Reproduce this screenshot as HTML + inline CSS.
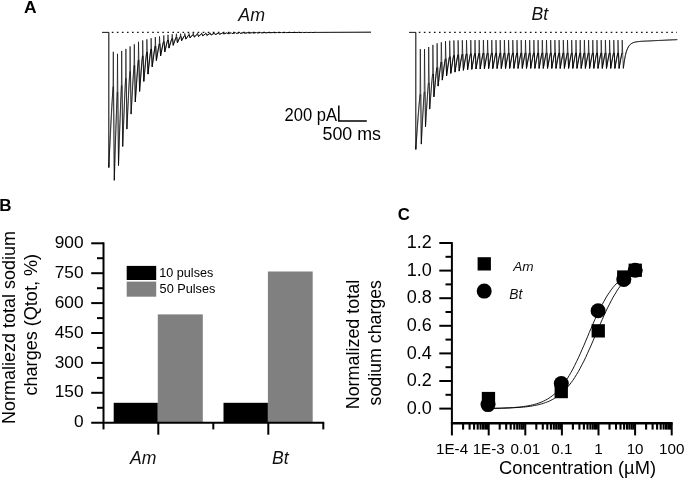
<!DOCTYPE html>
<html><head><meta charset="utf-8"><title>Figure</title>
<style>html,body{margin:0;padding:0;background:#fff}svg{display:block}</style>
</head><body>
<svg width="685" height="480" viewBox="0 0 685 480">
<rect width="685" height="480" fill="#fff"/>
<g font-family="'Liberation Sans', Arial, sans-serif" fill="#000">
<text x="24.1" y="12.8" font-size="16.5" font-weight="bold" textLength="12.6" lengthAdjust="spacingAndGlyphs">A</text>
<text x="238.3" y="21.2" font-size="17.8" font-style="italic" fill="#111">Am</text>
<text x="531.5" y="20.4" font-size="17.5" font-style="italic" fill="#111">Bt</text>
<line x1="111.8" y1="32.4" x2="300" y2="32.4" stroke="#111" stroke-width="1.1" stroke-dasharray="1.6 3.45"/>
<line x1="418.8" y1="32.4" x2="677" y2="32.4" stroke="#111" stroke-width="1.1" stroke-dasharray="1.6 3.45"/>
<polyline fill="none" stroke="#000" stroke-width="0.65" stroke-linejoin="miter" points="102.1,32.4 108.8,32.4 108.8,167.5 109.9,142.5 110.9,121.0 112.0,102.5 113.0,86.5 113.3,51.8 114.3,180.3 115.0,153.0 115.8,129.4 116.5,109.2 117.2,91.8 117.5,53.8 118.5,165.6 119.2,140.8 120.0,119.5 120.7,101.1 121.4,85.3 121.7,50.9 122.7,146.5 123.5,125.4 124.2,107.3 124.9,91.6 125.6,78.2 125.9,48.9 126.9,129.1 127.7,111.2 128.4,95.8 129.1,82.6 129.8,71.2 130.1,46.4 131.1,114.1 131.9,99.0 132.6,86.0 133.3,74.9 134.0,65.2 134.3,44.3 135.3,101.9 136.1,88.9 136.8,77.7 137.5,68.1 138.3,59.8 138.5,41.8 139.6,91.4 140.3,80.4 141.0,70.9 141.7,62.7 142.5,55.7 142.7,40.4 143.8,81.4 144.5,72.3 145.2,64.5 145.9,57.7 146.7,51.9 146.9,39.3 148.0,74.1 148.7,66.3 149.4,59.6 150.2,53.9 150.9,48.9 151.1,38.1 152.2,66.8 152.9,60.4 153.6,54.9 154.4,50.1 155.1,46.0 155.3,37.1 156.4,60.5 157.1,55.3 157.8,50.8 158.6,47.0 159.3,43.6 159.5,36.4 160.6,55.9 161.3,51.5 162.1,47.7 162.8,44.4 163.5,41.5 163.8,35.4 164.8,51.8 165.5,48.1 166.3,45.0 167.0,42.2 167.7,39.9 168.0,34.8 169.0,48.1 169.7,45.1 170.5,42.6 171.2,40.3 171.9,38.4 172.2,34.3 173.2,45.3 173.9,42.8 174.7,40.7 175.4,38.8 176.1,37.2 176.4,33.8 177.4,42.8 178.2,40.8 178.9,39.1 179.6,37.6 180.3,36.4 180.6,33.6 181.6,40.7 182.4,39.1 183.1,37.8 183.8,36.6 184.5,35.6 184.8,33.4 185.8,39.1 186.6,37.8 187.3,36.8 188.0,35.8 188.8,35.0 189.0,33.3 190.1,37.9 190.8,36.9 191.5,36.0 192.2,35.2 193.0,34.6 193.2,33.1 194.3,37.1 195.0,36.2 195.7,35.5 196.4,34.8 197.2,34.3 197.4,33.0 198.5,36.5 199.2,35.7 199.9,35.0 200.6,34.5 201.4,34.0 201.6,32.9 202.7,35.9 203.4,35.2 204.1,34.7 204.9,34.2 205.6,33.8 205.8,32.8 206.9,35.4 207.6,34.8 208.3,34.4 209.1,33.9 209.8,33.6 210.0,32.8 211.1,35.0 211.8,34.5 212.5,34.1 213.3,33.7 214.0,33.4 214.2,32.7 215.3,34.6 216.0,34.2 216.8,33.8 217.5,33.5 218.2,33.3 218.5,32.7 219.5,34.3 220.2,34.0 221.0,33.6 221.7,33.4 222.4,33.1 222.7,32.6 223.7,34.0 224.4,33.7 225.2,33.5 225.9,33.2 226.6,33.0 226.9,32.6 227.9,33.8 228.7,33.5 229.4,33.3 230.1,33.1 230.8,32.9 231.1,32.6 232.1,33.6 232.9,33.4 233.6,33.2 234.3,33.0 235.0,32.9 235.3,32.5 236.3,33.4 237.1,33.2 237.8,33.1 238.5,32.9 239.2,32.8 239.5,32.5 240.5,33.3 241.3,33.1 242.0,33.0 242.7,32.9 243.5,32.7 243.7,32.5 244.8,33.2 245.5,33.0 246.2,32.9 246.9,32.8 247.7,32.7 247.9,32.5 249.0,33.1 249.7,32.9 250.4,32.8 251.1,32.7 251.9,32.7 252.1,32.5 253.2,33.0 253.9,32.9 254.6,32.8 255.4,32.7 256.1,32.6 256.3,32.5 257.4,32.9 258.1,32.8 258.8,32.7 259.6,32.6 260.3,32.6 260.5,32.5 261.6,32.8 262.3,32.7 263.0,32.7 263.8,32.6 264.5,32.6 264.7,32.4 265.8,32.8 266.5,32.7 267.2,32.6 268.0,32.6 268.7,32.5 269.0,32.4 270.0,32.7 270.7,32.7 271.5,32.6 272.2,32.6 272.9,32.5 273.2,32.4 274.2,32.7 274.9,32.6 275.7,32.6 276.4,32.5 277.1,32.5 277.4,32.4 278.4,32.6 279.1,32.6 279.9,32.5 280.6,32.5 281.3,32.5 281.6,32.4 282.6,32.6 283.4,32.6 284.1,32.5 284.8,32.5 285.5,32.5 285.8,32.4 286.8,32.6 287.6,32.5 288.3,32.5 289.0,32.5 289.7,32.5 290.0,32.4 291.0,32.5 291.8,32.5 292.5,32.5 293.2,32.5 294.0,32.5 294.2,32.4 295.3,32.5 296.0,32.5 296.7,32.5 297.4,32.5 298.2,32.4 298.4,32.4 299.5,32.5 300.2,32.5 300.9,32.5 301.6,32.5 302.4,32.4 302.6,32.4 303.7,32.5 304.4,32.5 305.1,32.5 305.8,32.4 306.6,32.4 306.8,32.4 307.9,32.5 308.6,32.5 309.3,32.5 310.1,32.4 310.8,32.4 311.0,32.4 312.1,32.5 312.8,32.5 313.5,32.4 314.3,32.4 315.0,32.4 315.2,32.4 316.3,32.5 318.3,32.5 371.0,32.1"/>
<polyline fill="none" stroke="#000" stroke-width="0.65" stroke-linejoin="miter" points="409.1,32.4 415.8,32.4 415.8,149.4 416.9,132.4 417.9,117.7 419.0,105.1 420.0,94.2 420.3,49.1 421.3,144.1 422.0,128.0 422.8,114.1 423.5,102.1 424.2,91.8 424.5,49.1 425.5,126.8 426.2,113.3 427.0,101.6 427.7,91.5 428.4,82.9 428.7,47.0 429.7,109.1 430.5,98.2 431.2,88.8 431.9,80.7 432.6,73.8 432.9,44.9 433.9,96.8 434.7,87.7 435.4,79.9 436.1,73.2 436.8,67.4 437.1,43.3 438.1,86.1 438.9,78.7 439.6,72.3 440.3,66.8 441.0,62.0 441.3,42.3 442.3,80.1 443.1,73.5 443.8,67.8 444.5,62.9 445.3,58.7 445.5,41.2 446.6,75.8 447.3,69.8 448.0,64.7 448.7,60.3 449.5,56.5 449.7,40.7 450.8,73.4 451.5,67.8 452.2,63.0 452.9,58.8 453.7,55.2 453.9,40.4 455.0,72.1 455.7,66.7 456.4,62.0 457.2,58.0 457.9,54.6 458.1,40.3 459.2,71.1 459.9,65.9 460.6,61.3 461.4,57.5 462.1,54.1 462.3,40.2 463.4,70.3 464.1,65.2 464.8,60.8 465.6,57.0 466.3,53.7 466.5,40.2 467.6,69.7 468.3,64.7 469.1,60.4 469.8,56.7 470.5,53.5 470.8,40.1 471.8,69.3 472.5,64.4 473.3,60.1 474.0,56.4 474.7,53.3 475.0,40.1 476.0,69.0 476.7,64.1 477.5,59.9 478.2,56.3 478.9,53.1 479.2,40.1 480.2,68.9 480.9,64.0 481.7,59.8 482.4,56.2 483.1,53.0 483.4,40.1 484.4,68.7 485.2,63.9 485.9,59.7 486.6,56.1 487.3,53.0 487.6,40.1 488.6,68.6 489.4,63.8 490.1,59.6 490.8,56.0 491.5,52.9 491.8,40.1 492.8,68.6 493.6,63.7 494.3,59.6 495.0,56.0 495.8,52.9 496.0,40.1 497.1,68.5 497.8,63.7 498.5,59.5 499.2,56.0 500.0,52.9 500.2,40.1 501.3,68.5 502.0,63.7 502.7,59.5 503.4,55.9 504.2,52.9 504.4,40.1 505.5,68.5 506.2,63.6 506.9,59.5 507.6,55.9 508.4,52.9 508.6,40.1 509.7,68.4 510.4,63.6 511.1,59.5 511.9,55.9 512.6,52.9 512.8,40.1 513.9,68.4 514.6,63.6 515.3,59.5 516.1,55.9 516.8,52.8 517.0,40.1 518.1,68.4 518.8,63.6 519.5,59.5 520.3,55.9 521.0,52.8 521.2,40.1 522.3,68.4 523.0,63.6 523.8,59.5 524.5,55.9 525.2,52.8 525.5,40.1 526.5,68.4 527.2,63.6 528.0,59.5 528.7,55.9 529.4,52.8 529.7,40.1 530.7,68.4 531.4,63.6 532.2,59.5 532.9,55.9 533.6,52.8 533.9,40.1 534.9,68.4 535.7,63.6 536.4,59.5 537.1,55.9 537.8,52.8 538.1,40.1 539.1,68.4 539.9,63.6 540.6,59.5 541.3,55.9 542.0,52.8 542.3,40.1 543.3,68.4 544.1,63.6 544.8,59.5 545.5,55.9 546.2,52.8 546.5,40.1 547.5,68.4 548.3,63.6 549.0,59.5 549.7,55.9 550.5,52.8 550.7,40.1 551.8,68.4 552.5,63.6 553.2,59.5 553.9,55.9 554.7,52.8 554.9,40.1 556.0,68.4 556.7,63.6 557.4,59.5 558.1,55.9 558.9,52.8 559.1,40.1 560.2,68.4 560.9,63.6 561.6,59.5 562.4,55.9 563.1,52.8 563.3,40.1 564.4,68.4 565.1,63.6 565.8,59.5 566.6,55.9 567.3,52.8 567.5,40.1 568.6,68.4 569.3,63.6 570.0,59.5 570.8,55.9 571.5,52.8 571.7,40.1 572.8,68.4 573.5,63.6 574.2,59.5 575.0,55.9 575.7,52.8 576.0,40.1 577.0,68.4 577.7,63.6 578.5,59.5 579.2,55.9 579.9,52.8 580.2,40.1 581.2,68.4 581.9,63.6 582.7,59.5 583.4,55.9 584.1,52.8 584.4,40.1 585.4,68.4 586.1,63.6 586.9,59.5 587.6,55.9 588.3,52.8 588.6,40.1 589.6,68.4 590.4,63.6 591.1,59.5 591.8,55.9 592.5,52.8 592.8,40.1 593.8,68.4 594.6,63.6 595.3,59.5 596.0,55.9 596.7,52.8 597.0,40.1 598.0,68.4 598.8,63.6 599.5,59.5 600.2,55.9 601.0,52.8 601.2,40.1 602.3,68.4 603.0,63.6 603.7,59.5 604.4,55.9 605.2,52.8 605.4,40.1 606.5,68.4 607.2,63.6 607.9,59.5 608.6,55.9 609.4,52.8 609.6,40.1 610.7,68.4 611.4,63.6 612.1,59.5 612.8,55.9 613.6,52.8 613.8,40.1 614.9,68.4 615.6,63.6 616.3,59.5 617.1,55.9 617.8,52.8 618.0,40.1 619.1,68.4 619.8,63.6 620.5,59.5 621.3,55.9 622.0,52.8 622.2,40.1 623.3,68.4 623.3,68.4 624.3,61.0 625.3,55.7 626.3,51.8 627.3,49.0 628.3,47.0 629.3,45.5 630.3,44.4 631.3,43.7 632.3,43.1 633.3,42.6 634.3,42.3 635.3,42.1 636.3,41.9 637.3,41.7 638.3,41.6 639.3,41.5 640.3,41.4 641.3,41.3 642.3,41.3 643.3,41.2 644.3,41.2 645.3,41.1 646.3,41.1 647.3,41.0 648.3,41.0 649.3,40.9 650.3,40.9 651.3,40.8 652.3,40.8 653.3,40.7 654.3,40.7 655.3,40.6 656.3,40.6 657.3,40.5 658.3,40.5 659.3,40.4 660.3,40.4 661.3,40.4 662.3,40.3 663.3,40.3 664.3,40.2 665.3,40.2 666.3,40.1 667.3,40.1 668.3,40.0 669.3,40.0 670.3,39.9 671.3,39.9 672.3,39.8 673.3,39.8 674.3,39.8 675.3,39.7 676.3,39.7 677.3,39.6"/>
<polyline fill="none" stroke="#000" stroke-width="0.6" points="623.3,68.4 624.3,61.0 625.3,55.7 626.3,51.8 627.3,49.0 628.3,47.0 629.3,45.5 630.3,44.4 631.3,43.7 632.3,43.1 633.3,42.6 634.3,42.3 635.3,42.1 636.3,41.9 637.3,41.7 638.3,41.6 639.3,41.5 640.3,41.4 641.3,41.3 642.3,41.3 643.3,41.2 644.3,41.2 645.3,41.1 646.3,41.1 647.3,41.0 648.3,41.0 649.3,40.9 650.3,40.9 651.3,40.8 652.3,40.8 653.3,40.7 654.3,40.7 655.3,40.6 656.3,40.6 657.3,40.5 658.3,40.5 659.3,40.4 660.3,40.4 661.3,40.4 662.3,40.3 663.3,40.3 664.3,40.2 665.3,40.2 666.3,40.1 667.3,40.1 668.3,40.0 669.3,40.0 670.3,39.9 671.3,39.9 672.3,39.8 673.3,39.8 674.3,39.8 675.3,39.7 676.3,39.7 677.3,39.6"/>
<path fill="none" stroke="#000" stroke-width="0.6" d="M102.1,32.4H108.8V167.5 M409.1,32.4H415.8V149.4 M315.0,32.3H371" stroke-linejoin="miter"/>
<path fill="none" stroke="#000" stroke-width="0.5" stroke-linejoin="miter" d="M108.8,163.4L108.8,167.5L113.0,86.5 M113.5,86.5L114.3,180.3L117.2,91.8 M117.8,91.8L118.5,165.6L121.4,85.3 M122.1,85.3L122.7,146.5L125.6,78.2 M126.3,78.2L126.9,129.1L129.8,71.2 M130.5,71.2L131.1,114.1L134.0,65.2 M415.8,145.9L415.8,149.4L420.0,94.2 M420.8,94.2L421.3,144.1L424.2,91.8 M425.0,91.8L425.5,126.8L428.4,82.9 M429.3,82.9L429.7,109.1L432.6,73.8"/>
<path fill="none" stroke="#000" stroke-width="0.75" stroke-linejoin="miter" d="M134.7,65.2L135.3,101.9L138.3,59.8 M138.9,59.8L139.6,91.4L142.5,55.7 M143.1,55.7L143.8,81.4L146.7,51.9 M433.5,73.8L433.9,96.8L436.8,67.4 M437.7,67.4L438.1,86.1L441.0,62.0 M441.8,62.0L442.3,80.1L445.3,58.7"/>
<path fill="none" stroke="#000" stroke-width="0.85" stroke-linejoin="miter" d="M147.3,51.9L148.0,74.1L150.9,48.9 M151.5,48.9L152.2,66.8L155.1,46.0 M155.7,46.0L156.4,60.5L159.3,43.6 M159.9,43.6L160.6,55.9L163.5,41.5 M164.1,41.5L164.8,51.8L167.7,39.9 M168.4,39.9L169.0,48.1L171.9,38.4 M172.6,38.4L173.2,45.3L176.1,37.2 M176.8,37.2L177.4,42.8L180.3,36.4 M181.0,36.4L181.6,40.7L184.5,35.6 M185.2,35.6L185.8,39.1L188.8,35.0 M189.4,35.0L190.1,37.9L193.0,34.6 M193.6,34.6L194.3,37.1L197.2,34.3 M197.8,34.3L198.5,36.5L201.4,34.0 M202.0,34.0L202.7,35.9L205.6,33.8 M206.2,33.8L206.9,35.4L209.8,33.6 M210.4,33.6L211.1,35.0L214.0,33.4 M214.6,33.4L215.3,34.6L218.2,33.3 M218.8,33.3L219.5,34.3L222.4,33.1 M223.0,33.1L223.7,34.0L226.6,33.0 M227.2,33.0L227.9,33.8L230.8,32.9 M231.5,32.9L232.1,33.6L235.0,32.9 M235.7,32.9L236.3,33.4L239.2,32.8 M239.9,32.8L240.5,33.3L243.5,32.7 M244.1,32.7L244.8,33.2L247.7,32.7 M248.3,32.7L249.0,33.1L251.9,32.7 M252.5,32.7L253.2,33.0L256.1,32.6 M256.7,32.6L257.4,32.9L260.3,32.6 M260.9,32.6L261.6,32.8L264.5,32.6 M265.1,32.6L265.8,32.8L268.7,32.5 M269.3,32.5L270.0,32.7L272.9,32.5 M273.5,32.5L274.2,32.7L277.1,32.5 M277.7,32.5L278.4,32.6L281.3,32.5 M282.0,32.5L282.6,32.6L285.5,32.5 M286.2,32.5L286.8,32.6L289.7,32.5 M290.4,32.5L291.0,32.5L294.0,32.5 M294.6,32.5L295.3,32.5L298.2,32.4 M298.8,32.4L299.5,32.5L302.4,32.4 M303.0,32.4L303.7,32.5L306.6,32.4 M307.2,32.4L307.9,32.5L310.8,32.4 M311.4,32.4L312.1,32.5L315.0,32.4 M446.0,58.7L446.6,75.8L449.5,56.5 M450.2,56.5L450.8,73.4L453.7,55.2 M454.4,55.2L455.0,72.1L457.9,54.6 M458.6,54.6L459.2,71.1L462.1,54.1 M462.8,54.1L463.4,70.3L466.3,53.7 M467.0,53.7L467.6,69.7L470.5,53.5 M471.2,53.5L471.8,69.3L474.7,53.3 M475.4,53.3L476.0,69.0L478.9,53.1 M479.6,53.1L480.2,68.9L483.1,53.0 M483.9,53.0L484.4,68.7L487.3,53.0 M488.1,53.0L488.6,68.6L491.5,52.9 M492.3,52.9L492.8,68.6L495.8,52.9 M496.5,52.9L497.1,68.5L500.0,52.9 M500.7,52.9L501.3,68.5L504.2,52.9 M504.9,52.9L505.5,68.5L508.4,52.9 M509.1,52.9L509.7,68.4L512.6,52.9 M513.3,52.9L513.9,68.4L516.8,52.8 M517.5,52.8L518.1,68.4L521.0,52.8 M521.7,52.8L522.3,68.4L525.2,52.8 M525.9,52.8L526.5,68.4L529.4,52.8 M530.1,52.8L530.7,68.4L533.6,52.8 M534.3,52.8L534.9,68.4L537.8,52.8 M538.6,52.8L539.1,68.4L542.0,52.8 M542.8,52.8L543.3,68.4L546.2,52.8 M547.0,52.8L547.5,68.4L550.5,52.8 M551.2,52.8L551.8,68.4L554.7,52.8 M555.4,52.8L556.0,68.4L558.9,52.8 M559.6,52.8L560.2,68.4L563.1,52.8 M563.8,52.8L564.4,68.4L567.3,52.8 M568.0,52.8L568.6,68.4L571.5,52.8 M572.2,52.8L572.8,68.4L575.7,52.8 M576.4,52.8L577.0,68.4L579.9,52.8 M580.6,52.8L581.2,68.4L584.1,52.8 M584.8,52.8L585.4,68.4L588.3,52.8 M589.1,52.8L589.6,68.4L592.5,52.8 M593.3,52.8L593.8,68.4L596.7,52.8 M597.5,52.8L598.0,68.4L601.0,52.8 M601.7,52.8L602.3,68.4L605.2,52.8 M605.9,52.8L606.5,68.4L609.4,52.8 M610.1,52.8L610.7,68.4L613.6,52.8 M614.3,52.8L614.9,68.4L617.8,52.8 M618.5,52.8L619.1,68.4L622.0,52.8"/>
<text x="284.5" y="120.6" font-size="17.5" textLength="52.5" lengthAdjust="spacingAndGlyphs">200 pA</text>
<text x="322.5" y="139.8" font-size="17.5" textLength="58.5" lengthAdjust="spacingAndGlyphs">500 ms</text>
<polyline fill="none" stroke="#000" stroke-width="1.5" points="338.8,105.4 338.8,120.9 366.8,120.9"/>
<text x="-0.7" y="210.6" font-size="16" font-weight="bold" textLength="12.3" lengthAdjust="spacingAndGlyphs">B</text>
<text transform="translate(14.6,424) rotate(-90)" font-size="18" textLength="193" lengthAdjust="spacingAndGlyphs">Normaliezd total sodium</text>
<text transform="translate(36.9,395.5) rotate(-90)" font-size="18" textLength="141.5" lengthAdjust="spacingAndGlyphs">charges (Qtot, %)</text>
<rect x="113.7" y="402.8" width="44.1" height="20" fill="#000"/>
<rect x="157.8" y="314.4" width="45" height="108.4" fill="#808080"/>
<rect x="223.5" y="402.8" width="44.4" height="20" fill="#000"/>
<rect x="267.9" y="271.5" width="44.8" height="151.3" fill="#808080"/>
<g stroke="#000" stroke-width="2" fill="none">
<line x1="103.5" y1="242.3" x2="103.5" y2="429.4"/>
<line x1="91.2" y1="422.7" x2="324.2" y2="422.7"/>
<line x1="97" y1="407.8" x2="103.5" y2="407.8"/>
<line x1="91.2" y1="392.8" x2="103.5" y2="392.8"/>
<line x1="97" y1="377.9" x2="103.5" y2="377.9"/>
<line x1="91.2" y1="362.9" x2="103.5" y2="362.9"/>
<line x1="97" y1="347.9" x2="103.5" y2="347.9"/>
<line x1="91.2" y1="333.0" x2="103.5" y2="333.0"/>
<line x1="97" y1="318.1" x2="103.5" y2="318.1"/>
<line x1="91.2" y1="303.1" x2="103.5" y2="303.1"/>
<line x1="97" y1="288.2" x2="103.5" y2="288.2"/>
<line x1="91.2" y1="273.2" x2="103.5" y2="273.2"/>
<line x1="97" y1="258.2" x2="103.5" y2="258.2"/>
<line x1="91.2" y1="243.3" x2="103.5" y2="243.3"/>
<line x1="158.3" y1="422.7" x2="158.3" y2="434.7"/>
<line x1="213.3" y1="422.7" x2="213.3" y2="429.4"/>
<line x1="268.3" y1="422.7" x2="268.3" y2="434.7"/>
<line x1="323.3" y1="422.7" x2="323.3" y2="429.4"/>
</g>
<text x="83.6" y="427.3" font-size="17.3" text-anchor="end">0</text>
<text x="83.6" y="397.4" font-size="17.3" text-anchor="end">150</text>
<text x="83.6" y="367.5" font-size="17.3" text-anchor="end">300</text>
<text x="83.6" y="337.6" font-size="17.3" text-anchor="end">450</text>
<text x="83.6" y="307.7" font-size="17.3" text-anchor="end">600</text>
<text x="83.6" y="277.8" font-size="17.3" text-anchor="end">750</text>
<text x="83.6" y="247.9" font-size="17.3" text-anchor="end">900</text>
<rect x="126.7" y="265.9" width="29.5" height="14.1" fill="#000"/>
<rect x="126.7" y="281.6" width="29.5" height="15.1" fill="#808080"/>
<text x="159.3" y="277.4" font-size="12.6" textLength="54" lengthAdjust="spacingAndGlyphs">10 pulses</text>
<text x="159.6" y="293.2" font-size="12.6" textLength="55.8" lengthAdjust="spacingAndGlyphs">50 Pulses</text>
<text x="130" y="464.2" font-size="17.6" font-style="italic" fill="#111">Am</text>
<text x="272" y="464.2" font-size="17.5" font-style="italic" fill="#111">Bt</text>
<text x="397.8" y="219.9" font-size="15.8" font-weight="bold" textLength="12.1" lengthAdjust="spacingAndGlyphs">C</text>
<text transform="translate(359.3,409.3) rotate(-90)" font-size="18" textLength="129.5" lengthAdjust="spacingAndGlyphs">Normalized total</text>
<text transform="translate(381.4,405.5) rotate(-90)" font-size="18" textLength="125.5" lengthAdjust="spacingAndGlyphs">sodium charges</text>
<g stroke="#000" stroke-width="2" fill="none">
<line x1="451.9" y1="242.1" x2="451.9" y2="435.4"/>
<line x1="450.9" y1="423.2" x2="672.7" y2="423.2" stroke-width="2.6"/>
<line x1="439.3" y1="408.6" x2="451.9" y2="408.6"/>
<line x1="445.5" y1="394.8" x2="451.9" y2="394.8"/>
<line x1="439.3" y1="381.0" x2="451.9" y2="381.0"/>
<line x1="445.5" y1="367.2" x2="451.9" y2="367.2"/>
<line x1="439.3" y1="353.4" x2="451.9" y2="353.4"/>
<line x1="445.5" y1="339.6" x2="451.9" y2="339.6"/>
<line x1="439.3" y1="325.8" x2="451.9" y2="325.8"/>
<line x1="445.5" y1="312.0" x2="451.9" y2="312.0"/>
<line x1="439.3" y1="298.2" x2="451.9" y2="298.2"/>
<line x1="445.5" y1="284.4" x2="451.9" y2="284.4"/>
<line x1="439.3" y1="270.6" x2="451.9" y2="270.6"/>
<line x1="445.5" y1="256.8" x2="451.9" y2="256.8"/>
<line x1="439.3" y1="243.0" x2="451.9" y2="243.0"/>
<line x1="488.7" y1="423.2" x2="488.7" y2="435.4"/>
<line x1="525.3" y1="423.2" x2="525.3" y2="435.4"/>
<line x1="561.9" y1="423.2" x2="561.9" y2="435.4"/>
<line x1="598.5" y1="423.2" x2="598.5" y2="435.4"/>
<line x1="635.1" y1="423.2" x2="635.1" y2="435.4"/>
<line x1="671.7" y1="423.2" x2="671.7" y2="435.4"/>
</g>
<g stroke="#000" stroke-width="2.1">
<line x1="463.1" y1="423.2" x2="463.1" y2="429.6"/>
<line x1="469.6" y1="423.2" x2="469.6" y2="429.6"/>
<line x1="474.1" y1="423.2" x2="474.1" y2="429.6"/>
<line x1="477.7" y1="423.2" x2="477.7" y2="429.6"/>
<line x1="480.6" y1="423.2" x2="480.6" y2="429.6"/>
<line x1="483.0" y1="423.2" x2="483.0" y2="429.6"/>
<line x1="485.2" y1="423.2" x2="485.2" y2="429.6"/>
<line x1="487.0" y1="423.2" x2="487.0" y2="429.6"/>
<line x1="499.7" y1="423.2" x2="499.7" y2="429.6"/>
<line x1="506.2" y1="423.2" x2="506.2" y2="429.6"/>
<line x1="510.7" y1="423.2" x2="510.7" y2="429.6"/>
<line x1="514.3" y1="423.2" x2="514.3" y2="429.6"/>
<line x1="517.2" y1="423.2" x2="517.2" y2="429.6"/>
<line x1="519.6" y1="423.2" x2="519.6" y2="429.6"/>
<line x1="521.8" y1="423.2" x2="521.8" y2="429.6"/>
<line x1="523.6" y1="423.2" x2="523.6" y2="429.6"/>
<line x1="536.3" y1="423.2" x2="536.3" y2="429.6"/>
<line x1="542.8" y1="423.2" x2="542.8" y2="429.6"/>
<line x1="547.3" y1="423.2" x2="547.3" y2="429.6"/>
<line x1="550.9" y1="423.2" x2="550.9" y2="429.6"/>
<line x1="553.8" y1="423.2" x2="553.8" y2="429.6"/>
<line x1="556.2" y1="423.2" x2="556.2" y2="429.6"/>
<line x1="558.4" y1="423.2" x2="558.4" y2="429.6"/>
<line x1="560.2" y1="423.2" x2="560.2" y2="429.6"/>
<line x1="572.9" y1="423.2" x2="572.9" y2="429.6"/>
<line x1="579.4" y1="423.2" x2="579.4" y2="429.6"/>
<line x1="583.9" y1="423.2" x2="583.9" y2="429.6"/>
<line x1="587.5" y1="423.2" x2="587.5" y2="429.6"/>
<line x1="590.4" y1="423.2" x2="590.4" y2="429.6"/>
<line x1="592.8" y1="423.2" x2="592.8" y2="429.6"/>
<line x1="595.0" y1="423.2" x2="595.0" y2="429.6"/>
<line x1="596.8" y1="423.2" x2="596.8" y2="429.6"/>
<line x1="609.5" y1="423.2" x2="609.5" y2="429.6"/>
<line x1="616.0" y1="423.2" x2="616.0" y2="429.6"/>
<line x1="620.5" y1="423.2" x2="620.5" y2="429.6"/>
<line x1="624.1" y1="423.2" x2="624.1" y2="429.6"/>
<line x1="627.0" y1="423.2" x2="627.0" y2="429.6"/>
<line x1="629.4" y1="423.2" x2="629.4" y2="429.6"/>
<line x1="631.6" y1="423.2" x2="631.6" y2="429.6"/>
<line x1="633.4" y1="423.2" x2="633.4" y2="429.6"/>
<line x1="646.1" y1="423.2" x2="646.1" y2="429.6"/>
<line x1="652.6" y1="423.2" x2="652.6" y2="429.6"/>
<line x1="657.1" y1="423.2" x2="657.1" y2="429.6"/>
<line x1="660.7" y1="423.2" x2="660.7" y2="429.6"/>
<line x1="663.6" y1="423.2" x2="663.6" y2="429.6"/>
<line x1="666.0" y1="423.2" x2="666.0" y2="429.6"/>
<line x1="668.2" y1="423.2" x2="668.2" y2="429.6"/>
<line x1="670.0" y1="423.2" x2="670.0" y2="429.6"/>
</g>
<text x="431.8" y="413.7" font-size="18" text-anchor="end">0.0</text>
<text x="431.8" y="386.1" font-size="18" text-anchor="end">0.2</text>
<text x="431.8" y="358.5" font-size="18" text-anchor="end">0.4</text>
<text x="431.8" y="330.9" font-size="18" text-anchor="end">0.6</text>
<text x="431.8" y="303.3" font-size="18" text-anchor="end">0.8</text>
<text x="431.8" y="275.7" font-size="18" text-anchor="end">1.0</text>
<text x="431.8" y="248.1" font-size="18" text-anchor="end">1.2</text>
<text x="452.1" y="454.3" font-size="15.2" text-anchor="middle">1E-4</text>
<text x="488.7" y="454.3" font-size="15.2" text-anchor="middle">1E-3</text>
<text x="525.3" y="454.3" font-size="15.2" text-anchor="middle">0.01</text>
<text x="561.9" y="454.3" font-size="15.2" text-anchor="middle">0.1</text>
<text x="598.5" y="454.3" font-size="15.2" text-anchor="middle">1</text>
<text x="635.1" y="454.3" font-size="15.2" text-anchor="middle">10</text>
<text x="671.7" y="454.3" font-size="15.2" text-anchor="middle">100</text>
<text x="499" y="474.2" font-size="18" textLength="157" lengthAdjust="spacingAndGlyphs">Concentration (µM)</text>
<polyline fill="none" stroke="#000" stroke-width="0.9" points="488.7,408.4 490.5,408.4 492.4,408.4 494.2,408.4 496.0,408.3 497.8,408.3 499.7,408.3 501.5,408.2 503.3,408.2 505.2,408.1 507.0,408.0 508.8,408.0 510.7,407.9 512.5,407.8 514.3,407.7 516.1,407.6 518.0,407.5 519.8,407.4 521.6,407.2 523.5,407.1 525.3,406.9 527.1,406.7 529.0,406.4 530.8,406.2 532.6,405.9 534.4,405.5 536.3,405.2 538.1,404.8 539.9,404.3 541.8,403.8 543.6,403.3 545.4,402.6 547.3,401.9 549.1,401.2 550.9,400.3 552.7,399.4 554.6,398.3 556.4,397.1 558.2,395.9 560.1,394.5 561.9,392.9 563.7,391.2 565.6,389.4 567.4,387.4 569.2,385.2 571.0,382.8 572.9,380.3 574.7,377.5 576.5,374.6 578.4,371.5 580.2,368.2 582.0,364.7 583.9,361.1 585.7,357.3 587.5,353.3 589.3,349.3 591.2,345.1 593.0,340.9 594.8,336.6 596.7,332.3 598.5,328.0 600.3,323.8 602.2,319.6 604.0,315.6 605.8,311.6 607.6,307.8 609.5,304.1 611.3,300.6 613.1,297.2 615.0,294.1 616.8,291.1 618.6,288.4 620.5,285.8 622.3,283.4 624.1,281.2 625.9,279.1 627.8,277.3 629.6,275.5 631.4,274.0 633.3,272.5 635.1,271.2"/>
<polyline fill="none" stroke="#000" stroke-width="0.9" points="488.7,408.4 490.5,408.4 492.4,408.3 494.2,408.3 496.0,408.3 497.8,408.2 499.7,408.2 501.5,408.1 503.3,408.0 505.2,408.0 507.0,407.9 508.8,407.8 510.7,407.7 512.5,407.6 514.3,407.5 516.1,407.3 518.0,407.2 519.8,407.0 521.6,406.8 523.5,406.5 525.3,406.3 527.1,406.0 529.0,405.7 530.8,405.3 532.6,404.9 534.4,404.4 536.3,403.9 538.1,403.3 539.9,402.6 541.8,401.9 543.6,401.1 545.4,400.2 547.3,399.2 549.1,398.1 550.9,396.8 552.7,395.5 554.6,393.9 556.4,392.3 558.2,390.4 560.1,388.4 561.9,386.2 563.7,383.9 565.6,381.3 567.4,378.5 569.2,375.5 571.0,372.4 572.9,369.0 574.7,365.4 576.5,361.7 578.4,357.8 580.2,353.8 582.0,349.6 583.9,345.4 585.7,341.1 587.5,336.8 589.3,332.4 591.2,328.1 593.0,323.9 594.8,319.7 596.7,315.7 598.5,311.8 600.3,308.1 602.2,304.5 604.0,301.2 605.8,298.0 607.6,295.0 609.5,292.3 611.3,289.7 613.1,287.3 615.0,285.2 616.8,283.2 618.6,281.3 620.5,279.7 622.3,278.2 624.1,276.8 625.9,275.6 627.8,274.4 629.6,273.4 631.4,272.5 633.3,271.7 635.1,271.0"/>
<rect x="477.6" y="257.2" width="13.3" height="13.3"/>
<circle cx="484.2" cy="291.1" r="7.5"/>
<text x="513.2" y="271.1" font-size="13.6" font-style="italic" fill="#111">Am</text>
<text x="509.2" y="298.7" font-size="13.8" font-style="italic" fill="#111">Bt</text>
<rect x="481.8" y="391.9" width="13.3" height="13.3"/>
<rect x="554.6" y="384.9" width="13.3" height="13.3"/>
<rect x="591.6" y="324.2" width="13.3" height="13.3"/>
<rect x="617.1" y="270.4" width="13.3" height="13.3"/>
<rect x="628.6" y="263.6" width="13.3" height="13.3"/>
<circle cx="488.0" cy="404.6" r="7.5"/>
<circle cx="561.3" cy="383.5" r="7.5"/>
<circle cx="598.1" cy="310.8" r="7.5"/>
<circle cx="623.8" cy="279.5" r="7.5"/>
<circle cx="635.2" cy="270.2" r="7.5"/>
</g></svg>
</body></html>
